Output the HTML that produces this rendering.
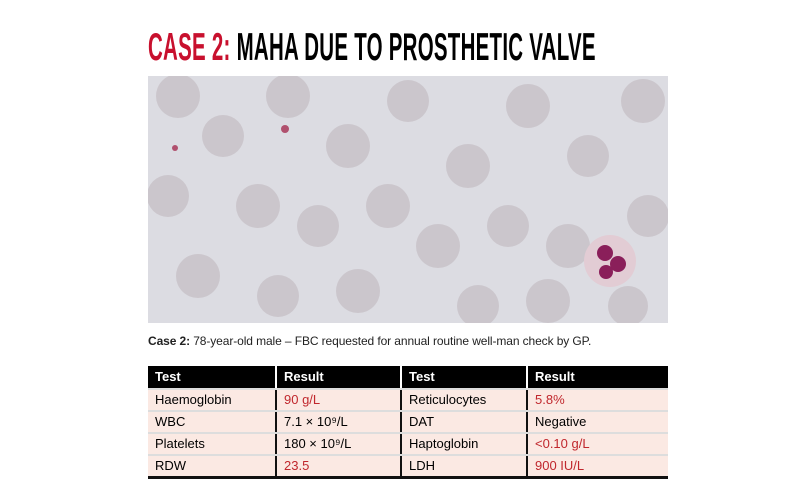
<!DOCTYPE html>
<html><head><style>
body{margin:0;width:800px;height:500px;background:#fff;position:relative;overflow:hidden;font-family:"Liberation Sans",sans-serif}
.t{position:absolute;left:148px;top:28px;font-size:39px;font-weight:bold;transform-origin:0 0;transform:scaleX(0.525);white-space:nowrap;letter-spacing:0.5px;line-height:40px}
.t span{color:#c8102e}
.img{position:absolute;left:148px;top:76px;width:520px;height:247px;background:#dcdce2}
.cap{position:absolute;left:148px;top:334px;font-size:12px;color:#222;letter-spacing:-0.1px}
table{position:absolute;left:148px;top:366px;width:520px;border-collapse:collapse;font-size:13px}
td{height:20px;padding:0 0 0 7px;background:#fbe9e3;border-bottom:2px solid #ddd;border-right:2px solid #111;line-height:20px}
td:last-child{border-right:none}
tr.h td{background:#000;color:#fff;font-weight:bold;height:22px;border-right:2px solid #fff}
tr.h td:last-child{border-right:none}
tr:last-child td{border-bottom:3px solid #111}
.r{color:#c0272d}
</style></head><body>
<div class="t"><span>CASE 2:</span> MAHA DUE TO PROSTHETIC VALVE</div>
<div class="img"><svg width="520" height="247" viewBox="0 0 520 247">
<g fill="#cbc6cc">
<circle cx="30" cy="20" r="22"/><circle cx="75" cy="60" r="21"/><circle cx="140" cy="20" r="22"/><circle cx="200" cy="70" r="22"/><circle cx="260" cy="25" r="21"/><circle cx="320" cy="90" r="22"/><circle cx="380" cy="30" r="22"/><circle cx="440" cy="80" r="21"/><circle cx="495" cy="25" r="22"/>
<circle cx="20" cy="120" r="21"/><circle cx="110" cy="130" r="22"/><circle cx="170" cy="150" r="21"/><circle cx="240" cy="130" r="22"/><circle cx="290" cy="170" r="22"/><circle cx="360" cy="150" r="21"/><circle cx="420" cy="170" r="22"/><circle cx="500" cy="140" r="21"/>
<circle cx="50" cy="200" r="22"/><circle cx="130" cy="220" r="21"/><circle cx="210" cy="215" r="22"/><circle cx="330" cy="230" r="21"/><circle cx="400" cy="225" r="22"/><circle cx="480" cy="230" r="20"/>
</g>
<circle cx="462" cy="185" r="26" fill="#e2ccd4"/>
<g fill="#8a1f5a"><circle cx="457" cy="177" r="8"/><circle cx="470" cy="188" r="8"/><circle cx="458" cy="196" r="7"/></g>
<circle cx="137" cy="53" r="4" fill="#b0506e"/><circle cx="27" cy="72" r="3" fill="#b0506e"/>
</svg></div>
<div class="cap"><b>Case 2:</b> 78-year-old male – FBC requested for annual routine well-man check by GP.</div>
<table>
<colgroup><col style="width:128px"><col style="width:125px"><col style="width:126px"><col style="width:141px"></colgroup>
<tr class="h"><td>Test</td><td>Result</td><td>Test</td><td>Result</td></tr>
<tr><td>Haemoglobin</td><td class="r">90 g/L</td><td>Reticulocytes</td><td class="r">5.8%</td></tr>
<tr><td>WBC</td><td>7.1 × 10⁹/L</td><td>DAT</td><td>Negative</td></tr>
<tr><td>Platelets</td><td>180 × 10⁹/L</td><td>Haptoglobin</td><td class="r">&lt;0.10 g/L</td></tr>
<tr><td>RDW</td><td class="r">23.5</td><td>LDH</td><td class="r">900 IU/L</td></tr>
</table>
</body></html>
